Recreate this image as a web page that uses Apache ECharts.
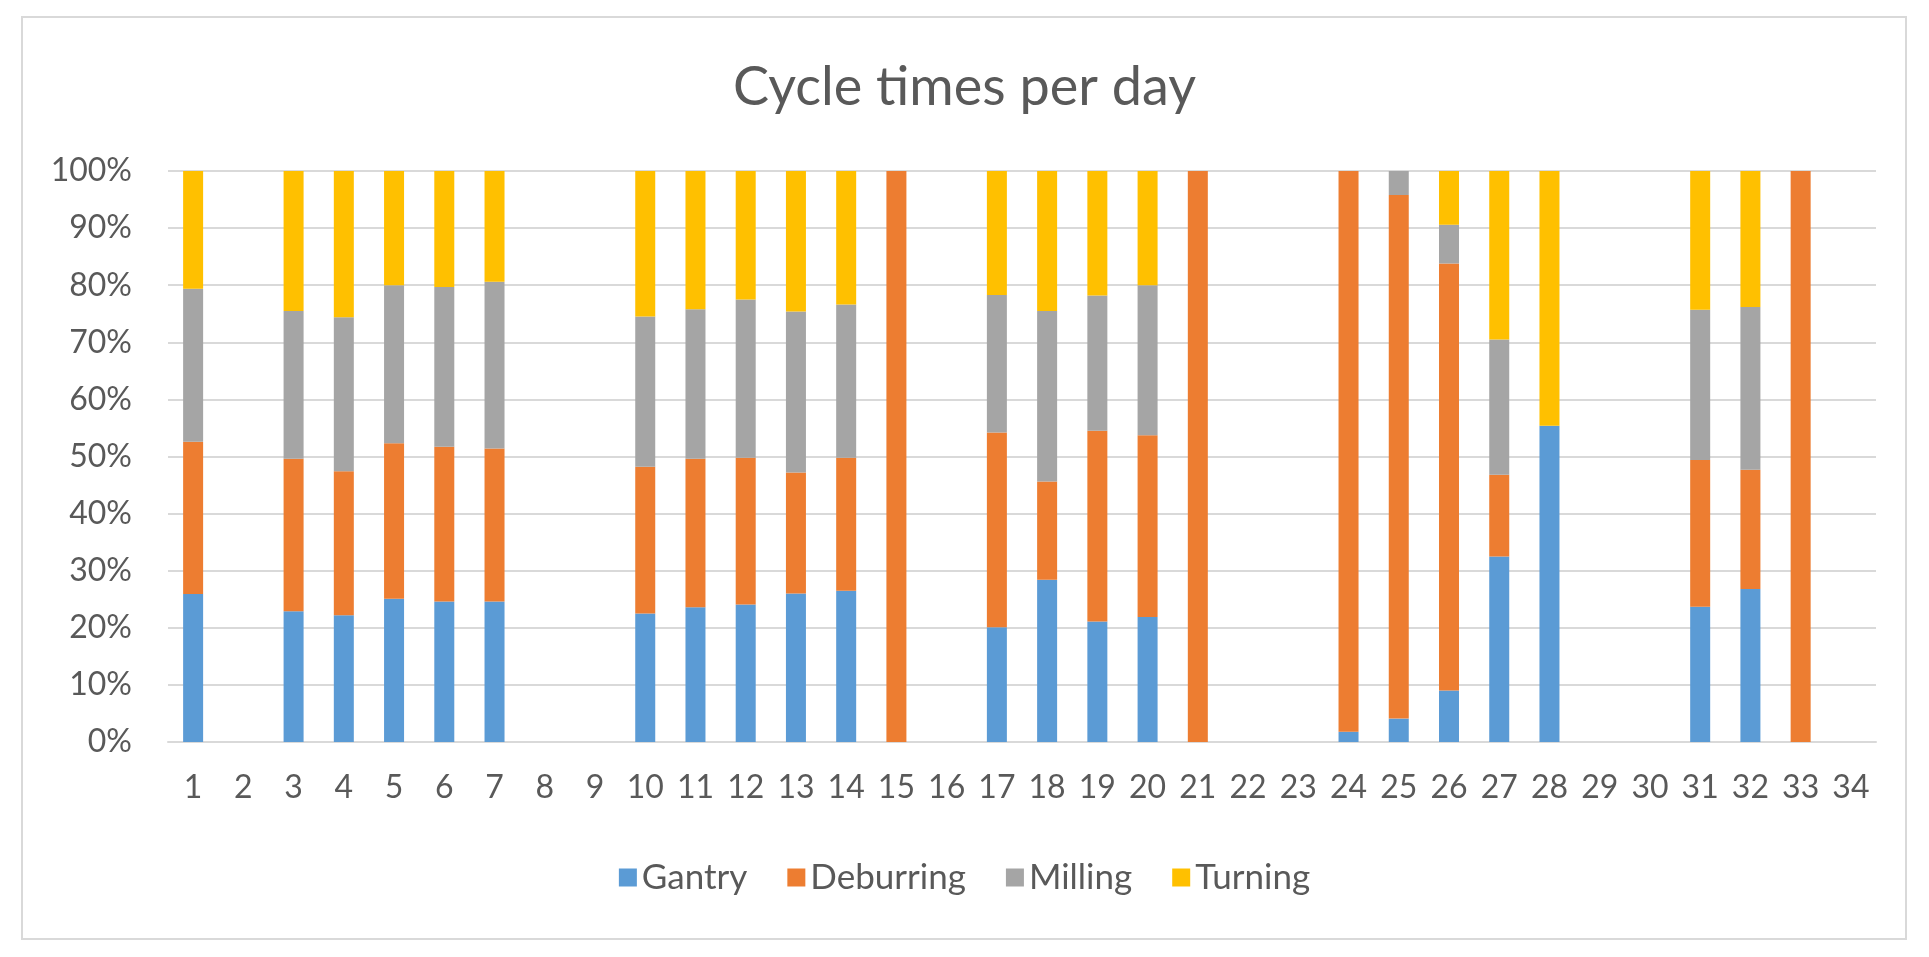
<!DOCTYPE html>
<html>
<head>
<meta charset="utf-8">
<title>Cycle times per day</title>
<script src="https://cdn.jsdelivr.net/npm/echarts@6.0.0/dist/echarts.min.js"></script>
<style>
  html, body { margin: 0; padding: 0; background: #fff; }
  #cycle_times { width: 1929px; height: 957px; }
</style>
</head>
<body>
<div id="cycle_times"></div>
<script>
// days on the x axis
var days = ['1','2','3','4','5','6','7','8','9','10','11','12','13','14','15','16','17','18','19','20','21','22','23','24','25','26','27','28','29','30','31','32','33','34'];
var series_names = ['Gantry', 'Deburring', 'Milling', 'Turning'];
var y_ticks = [0, 10, 20, 30, 40, 50, 60, 70, 80, 90, 100];

// share of the day in %, null = no production that day
var gantry    = [25.9, null, 22.9, 22.2, 25.1, 24.6, 24.6, null, null, 22.5, 23.6, 24.1, 26.0, 26.5, 0, null, 20.1, 28.4, 21.1, 21.9, 0, null, null, 1.8, 4.1, 9.0, 32.5, 55.4, null, null, 23.7, 26.8, 0, null];
var deburring = [26.7, null, 26.7, 25.2, 27.2, 27.1, 26.8, null, null, 25.7, 26.0, 25.7, 21.2, 23.3, 100, null, 34.1, 17.2, 33.4, 31.8, 100, null, null, 98.2, 91.7, 74.8, 14.3, 0, null, null, 25.7, 20.9, 100, null];
var milling   = [26.8, null, 25.9, 27.0, 27.7, 28.0, 29.2, null, null, 26.3, 26.2, 27.7, 28.2, 26.8, 0, null, 24.1, 29.9, 23.7, 26.3, 0, null, null, 0, 4.2, 6.8, 23.7, 0, null, null, 26.3, 28.5, 0, null];
var turning   = [20.6, null, 24.5, 25.6, 20.0, 20.3, 19.4, null, null, 25.5, 24.2, 22.5, 24.6, 23.4, 0, null, 21.7, 24.5, 21.8, 20.0, 0, null, null, 0, 0, 9.4, 29.5, 44.6, null, null, 24.3, 23.8, 0, null];

var colors = ['#5b9bd5', '#ed7d31', '#a5a5a5', '#ffc000'];
var font = 'Lato, "Liberation Sans", Arial, sans-serif';

graph_stacked('cycle_times', 'Cycle times per day');

function graph_stacked(area, titlepral) {
  var myChart = echarts.init(document.getElementById(area));
  var datos = [gantry, deburring, milling, turning];
  var series = [];
  for (var i = 0; i < series_names.length; i++) {
    series.push({
      name: series_names[i],
      type: 'bar',
      stack: 'day',
      barWidth: 20,
      itemStyle: { color: colors[i] },
      data: datos[i]
    });
  }
  var option = {
    backgroundColor: '#ffffff',
    animation: false,
    color: colors,
    title: {
      text: titlepral,
      left: 'center',
      top: 56,
      textStyle: {
        color: '#595959',
        fontWeight: 'normal',
        fontFamily: font,
        fontSize: 54
      }
    },
    legend: {
      data: series_names,
      top: 855,
      left: 'center',
      itemWidth: 18,
      itemHeight: 18,
      itemGap: 40,
      icon: 'rect',
      textStyle: { color: '#595959', fontFamily: font, fontSize: 35 }
    },
    grid: {
      left: 168,
      right: 53,
      top: 171,
      bottom: 215
    },
    // chart area border like the spreadsheet frame
    graphic: [{
      type: 'rect',
      shape: { x: 22, y: 17, width: 1884, height: 922 },
      style: { fill: 'none', stroke: '#d9d9d9', lineWidth: 2 },
      silent: true
    }],
    xAxis: [{
      type: 'category',
      data: days,
      axisTick: { show: false },
      axisLine: { lineStyle: { color: '#d9d9d9', width: 2 } },
      axisLabel: { color: '#595959', fontFamily: font, fontSize: 32, margin: 30, interval: 0 }
    }],
    yAxis: [{
      type: 'value',
      min: y_ticks[0],
      max: y_ticks[y_ticks.length - 1],
      interval: 10,
      axisLine: { show: false },
      axisTick: { show: false },
      splitLine: { lineStyle: { color: '#d9d9d9', width: 2 } },
      axisLabel: { color: '#595959', fontFamily: font, fontSize: 32, margin: 36, formatter: '{value}%' }
    }],
    series: series
  };
  myChart.setOption(option);

  window.addEventListener('resize', function() {
    if (myChart != null && myChart != undefined) {
      myChart.resize();
    }
  });
}
</script>
</body>
</html>
